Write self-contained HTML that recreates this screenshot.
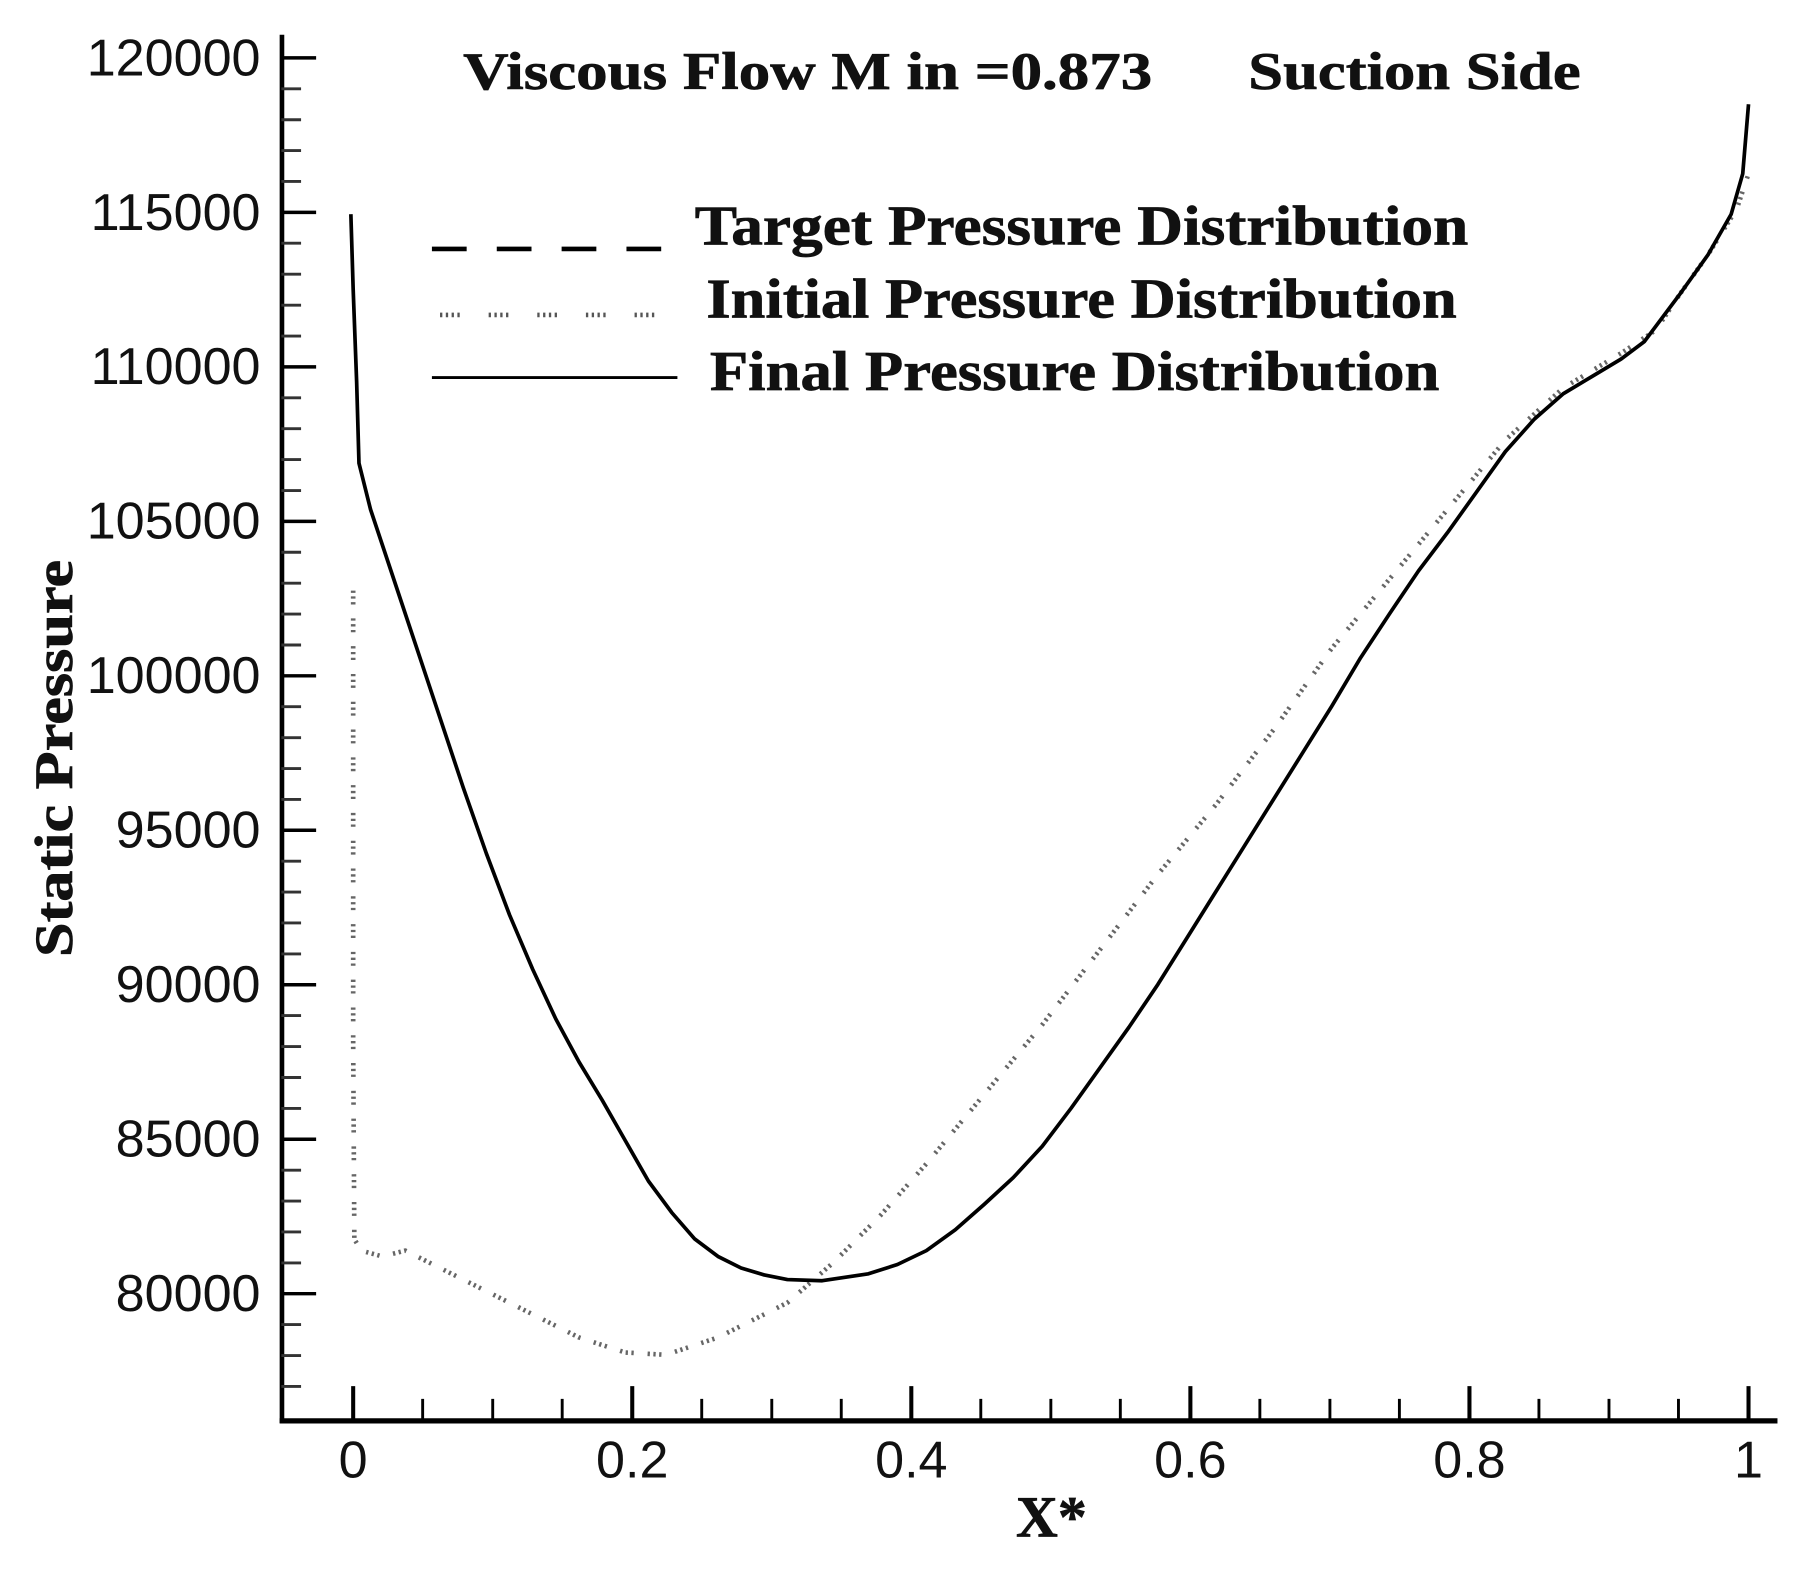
<!DOCTYPE html>
<html><head><meta charset="utf-8"><style>
html,body{margin:0;padding:0;background:#fff;}
svg{display:block;}
</style></head><body>
<svg width="1818" height="1581" viewBox="0 0 1570 1365.3" xmlns="http://www.w3.org/2000/svg">
<rect width="1570" height="1366" fill="#fff"/>
<g stroke="#000" fill="none">
<line x1="243.5" y1="30" x2="243.5" y2="1229" stroke-width="4"/>
<line x1="241.5" y1="1227" x2="1535" y2="1227" stroke-width="4.5"/>
<path stroke-width="3" d="M243 50h30M243 183.4h30M243 316.8h30M243 450.2h30M243 583.6h30M243 717h30M243 850.4h30M243 983.8h30M243 1117.2h30"/>
<path stroke-width="2.5" stroke="#333" d="M243 76.7h17M243 103.4h17M243 130h17M243 156.7h17M243 210h17M243 236.8h17M243 263.5h17M243 290.2h17M243 343.5h17M243 370.2h17M243 396.9h17M243 423.6h17M243 476.9h17M243 503.6h17M243 530.3h17M243 557h17M243 610.3h17M243 637h17M243 663.7h17M243 690.4h17M243 743.7h17M243 770.4h17M243 797h17M243 823.8h17M243 877h17M243 903.8h17M243 930.5h17M243 957.2h17M243 1010.5h17M243 1037.2h17M243 1063.9h17M243 1090.6h17M243 1143.9h17M243 1170.6h17M243 1197.3h17"/>
<path stroke-width="3.5" d="M305 1227v-30M546 1227v-30M787 1227v-30M1028 1227v-30M1269 1227v-30M1510 1227v-30"/>
<path stroke-width="2.5" d="M365 1227v-19M425.5 1227v-19M485.5 1227v-19M606 1227v-19M666.5 1227v-19M726.5 1227v-19M847 1227v-19M907.5 1227v-19M967.5 1227v-19M1088 1227v-19M1148.5 1227v-19M1208.5 1227v-19M1329 1227v-19M1389.5 1227v-19M1449.5 1227v-19"/>
</g>
<g font-family="Liberation Sans, Arial, sans-serif" font-size="45" fill="#111" text-anchor="end">
<text x="225" y="65">120000</text><text x="225" y="198.4">115000</text><text x="225" y="331.8">110000</text><text x="225" y="465.2">105000</text><text x="225" y="598.6">100000</text><text x="225" y="732">95000</text><text x="225" y="865.4">90000</text><text x="225" y="998.8">85000</text><text x="225" y="1132.2">80000</text>
</g>
<g font-family="Liberation Sans, Arial, sans-serif" font-size="45" fill="#111" text-anchor="middle">
<text x="305" y="1276">0</text><text x="546" y="1276">0.2</text><text x="787" y="1276">0.4</text><text x="1028" y="1276">0.6</text><text x="1269" y="1276">0.8</text><text x="1510" y="1276">1</text>
</g>
<g font-family="Liberation Serif, Times New Roman, serif" font-weight="bold" fill="#111" stroke="#111" stroke-width="0.6">
<text x="400" y="77" font-size="46" textLength="595" lengthAdjust="spacingAndGlyphs">Viscous Flow M in =0.873</text>
<text x="1078" y="77" font-size="46" textLength="287" lengthAdjust="spacingAndGlyphs">Suction Side</text>
<text x="600" y="211" font-size="48" textLength="668" lengthAdjust="spacingAndGlyphs">Target Pressure Distribution</text>
<text x="610" y="274" font-size="48" textLength="648" lengthAdjust="spacingAndGlyphs">Initial Pressure Distribution</text>
<text x="613" y="337" font-size="48" textLength="630" lengthAdjust="spacingAndGlyphs">Final Pressure Distribution</text>
<text x="908" y="1327" font-size="50" text-anchor="middle">X*</text>
<text transform="translate(62,655) rotate(-90)" font-size="47" text-anchor="middle" textLength="343" lengthAdjust="spacingAndGlyphs">Static Pressure</text>
</g>
<g fill="none" stroke-linejoin="round" stroke-linecap="butt">
<line x1="373" y1="215" x2="575" y2="215" stroke="#000" stroke-width="4" stroke-dasharray="30,26"/>
<line x1="380" y1="272" x2="580" y2="272" stroke="#555" stroke-width="4" stroke-dasharray="2,3,2,3,2,3,2,25"/>
<line x1="373" y1="326" x2="585" y2="326" stroke="#000" stroke-width="2.5"/>
<path stroke="#666" stroke-width="4" stroke-dasharray="2,3,2,3,2,12" d="M305 510 L305 900 L306 1070 L312 1080 L330 1085 L350 1080 L400 1105 L450 1130 L500 1155 L540 1168 L575 1170 L620 1155 L680 1125 L720 1090 L760 1050 L800 1005 L850 945 L900 885 L950 820 L1000 755 L1050 695 L1100 630 L1150 560 L1200 500 L1250 440 L1300 380 L1350 335 L1400 305 L1430 285 L1450 255 L1475 220 L1500 180 L1510 150"/>
<path stroke="#000" stroke-width="3.2" d="M303 185 L305 250 L308 330 L310 400 L320 440 L330 470 L345 515 L360 560 L380 620 L400 680 L420 737 L440 790 L460 837 L480 880 L500 917 L520 950 L540 985 L560 1020 L580 1047 L600 1070 L620 1085 L640 1095 L660 1101 L680 1105 L710 1106 L750 1100 L775 1092 L800 1080 L825 1062 L850 1040 L875 1017 L900 990 L925 957 L950 922 L975 887 L1000 850 L1025 810 L1050 770 L1075 730 L1100 690 L1125 650 L1150 610 L1175 568 L1200 530 L1225 493 L1250 460 L1275 425 L1300 390 L1325 362 L1350 340 L1375 325 L1400 310 L1420 295 L1450 255 L1475 220 L1495 185 L1505 150 L1510 90"/>
</g>
</svg>
</body></html>
